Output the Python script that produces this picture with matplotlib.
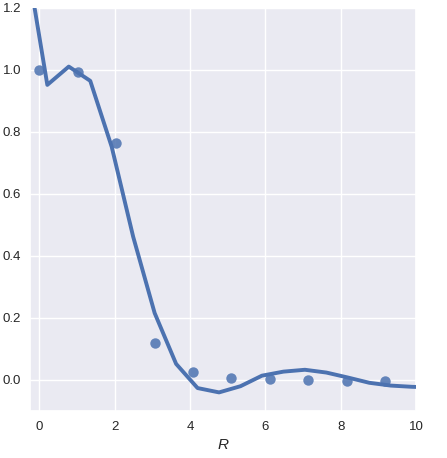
import matplotlib
matplotlib.use("Agg")
import matplotlib.pyplot as plt
import seaborn as sns

# binned points
r_pts = [0.0, 1.02, 2.04, 3.06, 4.08, 5.10, 6.12, 7.14, 8.16, 9.18]
g_pts = [1.0, 0.993, 0.765, 0.12, 0.025, 0.008, 0.002, 0.0, -0.002, -0.002]

# model curve
r_line = [-0.36, 0.21, 0.78, 1.35, 1.92, 2.49, 3.06, 3.63, 4.20, 4.77, 5.34,
          5.91, 6.48, 7.05, 7.62, 8.19, 8.76, 9.33, 9.90, 10.47]
g_line = [1.37, 0.952, 1.011, 0.965, 0.752, 0.462, 0.216, 0.052, -0.026, -0.040,
          -0.020, 0.014, 0.027, 0.033, 0.024, 0.008, -0.009, -0.018, -0.022, -0.024]


def main():
    sns.set_theme(style="darkgrid")
    plt.rcParams['font.family'] = ['Liberation Sans', 'DejaVu Sans']
    plt.rcParams['mathtext.fontset'] = 'custom'
    plt.rcParams['mathtext.it'] = 'Liberation Sans:italic'
    fig = plt.figure(figsize=(4.47, 4.58), dpi=100)
    ax = fig.add_axes([30 / 447, 47 / 458, 386 / 447, 403 / 458])

    color = sns.color_palette("deep")[0]
    ax.plot(r_line, g_line, color=color, lw=2.8, zorder=3)
    ax.plot(r_pts, g_pts, "o", color=color, alpha=0.85, ms=7.5, mec="none", zorder=2)

    ax.set_xlim(-0.25, 10)
    ax.set_ylim(-0.1, 1.2)
    ax.set_xticks([0, 2, 4, 6, 8, 10])
    ax.set_yticks([0.0, 0.2, 0.4, 0.6, 0.8, 1.0, 1.2])
    ax.tick_params(labelsize=9.5, length=0)
    ax.tick_params(axis="y", pad=6.5)
    ax.tick_params(axis="x", pad=7.5)
    ax.set_xlabel("$R$", fontsize=11, labelpad=3)

    fig.savefig("out.png", dpi=100)


if __name__ == "__main__":
    main()
